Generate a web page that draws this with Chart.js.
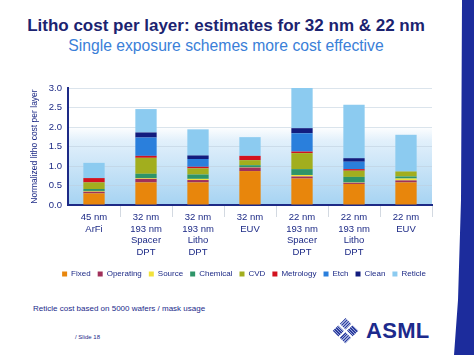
<!DOCTYPE html>
<html>
<head>
<meta charset="utf-8">
<script src="https://cdn.jsdelivr.net/npm/chart.js@4/dist/chart.umd.min.js"></script>
<style>
  html,body{margin:0;padding:0;background:#fff;}
  body{width:474px;height:355px;position:relative;overflow:hidden;font-family:"Liberation Sans",Arial,sans-serif;}
  #title{position:absolute;left:0;width:452px;top:16px;text-align:center;font-weight:bold;font-size:17px;color:#1b2370;white-space:nowrap;}
  #subtitle{position:absolute;left:0;width:452px;top:37px;text-align:center;font-size:15.7px;color:#3a80d8;white-space:nowrap;}
  #wrap{position:absolute;left:0;top:0;width:460px;height:290px;}
  #strip{position:absolute;left:454px;top:0;width:20px;height:355px;background:#1c2c9c;
    clip-path:polygon(8px 0,20px 0,20px 355px,0 355px,4px 300px,7px 200px);}
  #note{position:absolute;left:33px;top:304px;font-size:8px;color:#1b2a8a;white-space:nowrap;}
  #slide{position:absolute;left:75px;top:334px;font-size:6px;color:#1b2a8a;white-space:nowrap;}
  #asml{position:absolute;left:366px;top:318px;font-size:22px;font-weight:bold;color:#1c2a8c;letter-spacing:0.3px;}
  #logo{position:absolute;left:336px;top:322px;width:19px;height:19px;transform:rotate(45deg);}
  #logo div{position:absolute;width:8px;height:8px;
    background:repeating-linear-gradient(90deg,#2b3c9e 0 1px,#9aa6d8 1px 2px);}
</style>
</head>
<body>
<div id="title">Litho cost per layer: estimates for 32 nm &amp; 22 nm</div>
<div id="subtitle">Single exposure schemes more cost effective</div>
<div id="wrap"><canvas id="c" width="460" height="290"></canvas></div>
<div id="strip"></div>
<div id="note">Reticle cost based on 5000 wafers / mask usage</div>
<div id="slide">/ Slide 18</div>
<div id="logo">
  <div style="left:0;top:0;"></div>
  <div style="left:10px;top:0;background:repeating-linear-gradient(0deg,#2b3c9e 0 1px,#9aa6d8 1px 2px);"></div>
  <div style="left:0;top:10px;background:repeating-linear-gradient(0deg,#2b3c9e 0 1px,#9aa6d8 1px 2px);"></div>
  <div style="left:10px;top:10px;"></div>
</div>
<div id="asml">ASML</div>
<script>
const categories = [
  ['45 nm','ArFi'],
  ['32 nm','193 nm','Spacer','DPT'],
  ['32 nm','193 nm','Litho','DPT'],
  ['32 nm','EUV'],
  ['22 nm','193 nm','Spacer','DPT'],
  ['22 nm','193 nm','Litho','DPT'],
  ['22 nm','EUV']
];
const fixed     = [0.30, 0.58, 0.58, 0.87, 0.68, 0.54, 0.58];
const operating = [0.04, 0.09, 0.06, 0.09, 0.05, 0.03, 0.05];
const source    = [0.02, 0.02, 0.03, 0.01, 0.04, 0.01, 0.05];
const chemical  = [0.05, 0.11, 0.11, 0.05, 0.15, 0.14, 0.05];
const cvd       = [0.17, 0.41, 0.16, 0.13, 0.41, 0.16, 0.13];
const metrology = [0.11, 0.05, 0.04, 0.11, 0.04, 0.04, 0.00];
const etch      = [0.00, 0.47, 0.20, 0.00, 0.47, 0.19, 0.00];
const clean     = [0.00, 0.13, 0.09, 0.00, 0.13, 0.09, 0.00];
const reticle   = [0.39, 0.60, 0.67, 0.48, 1.04, 1.37, 0.94];
const yTicks    = ['0.0','0.5','1.0','1.5','2.0','2.5','3.0'];

const navy = '#1d2a86';
Chart.defaults.font.family = '"Liberation Sans", Arial, sans-serif';

const series = [
  ['Fixed', fixed, '#e8860c'],
  ['Operating', operating, '#a0305a'],
  ['Source', source, '#f2e23c'],
  ['Chemical', chemical, '#2e9468'],
  ['CVD', cvd, '#a2ae1e'],
  ['Metrology', metrology, '#d2121e'],
  ['Etch', etch, '#2a7fdc'],
  ['Clean', clean, '#121c7e'],
  ['Reticle', reticle, '#8ccbf0']
];

const bgPlugin = {
  id: 'bg',
  beforeDraw(chart) {
    const {ctx, chartArea: a} = chart;
    const g = ctx.createLinearGradient(0, a.top, 0, a.bottom);
    g.addColorStop(0, '#ffffff');
    g.addColorStop(0.33, '#ffffff');
    g.addColorStop(0.45, '#e2f0fb');
    g.addColorStop(1, '#a6d3f2');
    ctx.save();
    ctx.fillStyle = g;
    ctx.fillRect(a.left, a.top, a.right - a.left, a.bottom - a.top);
    ctx.restore();
  }
};
const shiftLegend = {
  id: 'shiftLegend',
  afterLayout(chart) {
    chart.legend.left += 13;
    chart.legend.right += 13;
  }
};

new Chart(document.getElementById('c'), {
  type: 'bar',
  data: {
    labels: categories,
    datasets: series.map(s => ({
      label: s[0], data: s[1], backgroundColor: s[2], borderWidth: 0,
      barPercentage: 0.41, categoryPercentage: 1.0
    }))
  },
  plugins: [bgPlugin, shiftLegend],
  options: {
    responsive: false,
    animation: false,
    layout: {padding: {left: 30, top: 88, right: 28, bottom: 2}},
    plugins: {
      tooltip: {enabled: false},
      legend: {
        position: 'bottom',
        labels: {color: navy, font: {size: 8}, boxWidth: 5, boxHeight: 5, padding: 7}
      }
    },
    scales: {
      x: {
        stacked: true,
        afterFit(s) { s.height = 58; },
        grid: {
          drawOnChartArea: false, tickLength: 12,
          tickColor: (c) => (c.index === 0 || c.index >= categories.length) ? 'rgba(0,0,0,0)' : '#d3d9e1'
        },
        border: {color: navy, width: 2},
        ticks: {color: navy, font: {size: 9.5, lineHeight: 1.2}, padding: -5, maxRotation: 0, autoSkip: false}
      },
      y: {
        stacked: true, min: 0, max: 3,
        afterFit(s) { s.width = 38; },
        grid: {color: 'rgba(190,205,220,0.55)', drawTicks: false},
        border: {color: navy, width: 2},
        ticks: {color: navy, font: {size: 9.5}, stepSize: 0.5, padding: 6,
          callback: (v, i) => yTicks[i]},
        title: {display: true, text: 'Normalized litho cost per layer', color: navy,
          font: {size: 8.5}, padding: 0}
      }
    }
  }
});
</script>
</body>
</html>
